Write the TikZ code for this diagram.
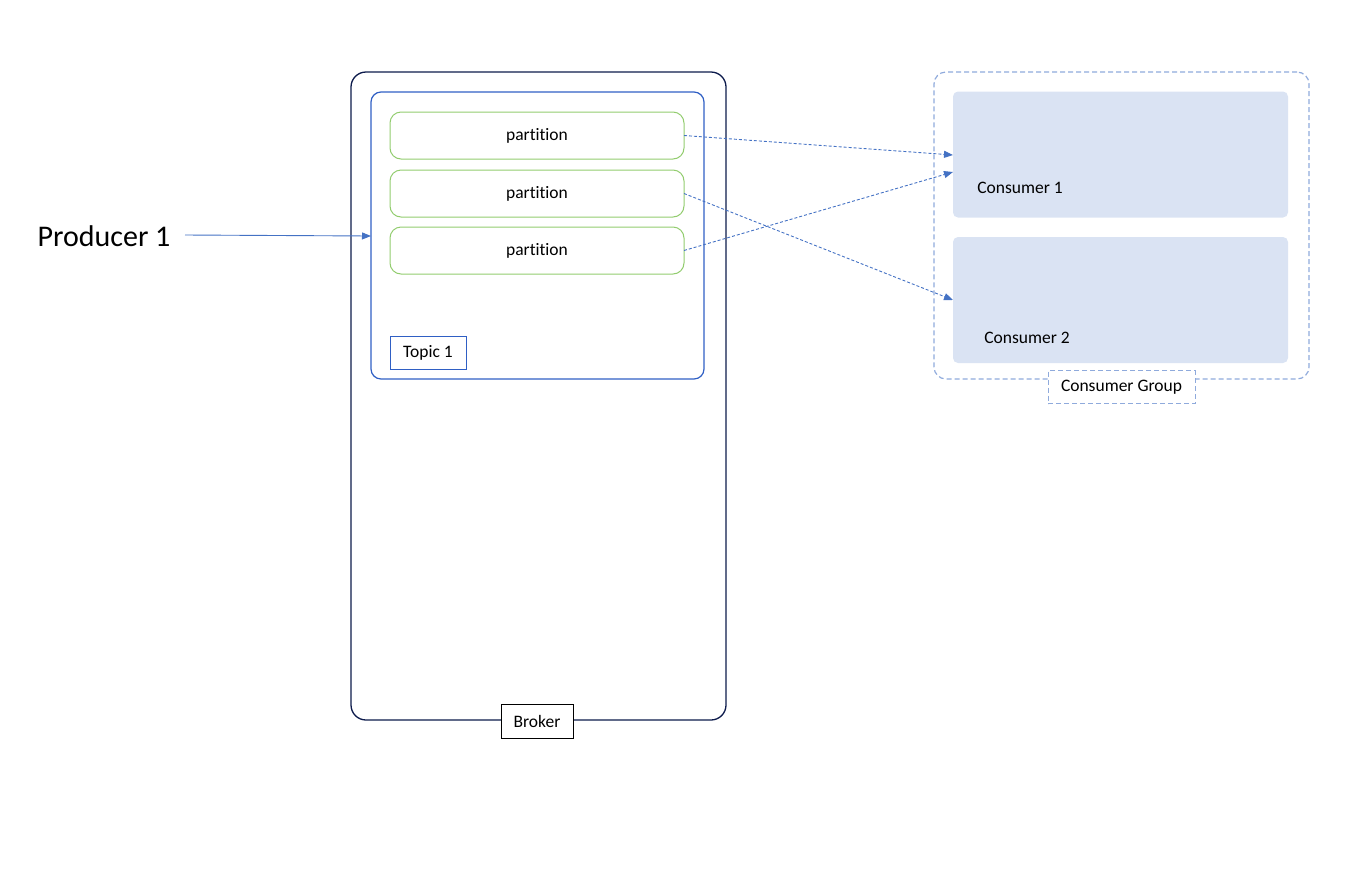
\documentclass[tikz,border=0pt]{standalone}
\usepackage{fontspec}
\setmainfont{Carlito}[Ligatures={NoCommon}]
\usetikzlibrary{arrows.meta}
\definecolor{navy}{HTML}{0D1B4C}
\definecolor{topicblue}{HTML}{2F5FC4}
\definecolor{pgreen}{HTML}{92CC6E}
\definecolor{arrowblue}{HTML}{4472C4}
\definecolor{cgblue}{HTML}{8FAADC}
\definecolor{cfill}{HTML}{DAE3F3}
\tikzset{
  box/.style={rectangle, inner sep=0pt, outer sep=0pt},
  txt/.style={font=\fontsize{17.5}{20}\selectfont},
  partbox/.style={box, txt, draw=pgreen, line width=1pt, rounded corners=11pt, minimum width=294pt, minimum height=47pt},
  consbox/.style={box, fill=cfill, rounded corners=5pt, minimum width=335pt, minimum height=126pt},
  lbl/.style={box, txt, fill=white, line width=1pt},
  flow/.style={draw=arrowblue, line width=0.9pt, dash pattern=on 3pt off 2pt, -{Triangle[length=9pt,width=7pt]}},
}
\begin{document}
\begin{tikzpicture}[x=1pt,y=-1pt]
\useasboundingbox (0,0) rectangle (1358,871);
% broker
\node[box, draw=navy, line width=1.3pt, rounded corners=15pt, minimum width=375pt, minimum height=648pt] (broker) at (538.5,396) {};
\node[lbl, draw=black, minimum width=72pt, minimum height=34pt] (brokerlbl) at (537,721) {Broker};
% topic
\node[box, draw=topicblue, line width=1.2pt, rounded corners=10pt, minimum width=333pt, minimum height=287pt] (topic) at (537.5,235.5) {};
\node[lbl, draw=topicblue, minimum width=76pt, minimum height=33pt] (topiclbl) at (428,352.5) {Topic 1};
% partitions
\node[partbox] (p1) at (537,135.5) {partition};
\node[partbox] (p2) at (537,193.5) {partition};
\node[partbox] (p3) at (537,250.5) {partition};
% producer
\node[box, font=\fontsize{30}{34}\selectfont] (prod) at (104,236) {Producer 1};
\coordinate (prodend) at (185,235);
\draw[draw=arrowblue, line width=0.9pt, -{Triangle[length=9pt,width=7pt]}] (prodend) -- (topic.west |- 0,236);
% consumer group
\node[box, draw=cgblue, line width=1.2pt, dash pattern=on 5pt off 3pt, rounded corners=12pt, minimum width=375pt, minimum height=307pt] (cg) at (1121.5,225.5) {};
\node[consbox] (c1) at (1120.5,154.5) {};
\node[consbox] (c2) at (1120.5,300) {};
\node[box, txt] (c1t) at (1020,188) {Consumer 1};
\node[box, txt] (c2t) at (1027,338) {Consumer 2};
\node[lbl, draw=cgblue, dash pattern=on 5pt off 3pt, minimum width=147pt, minimum height=33pt] (cglbl) at (1121.5,387) {Consumer Group};
% flows
\coordinate (c1a) at (953,155);
\coordinate (c1b) at (953,172);
\coordinate (c2a) at (953,300);
\draw[flow] (p1.east) -- (c1a);
\draw[flow] (p2.east) -- (c2a);
\draw[flow] (p3.east) -- (c1b);
\end{tikzpicture}
\end{document}
